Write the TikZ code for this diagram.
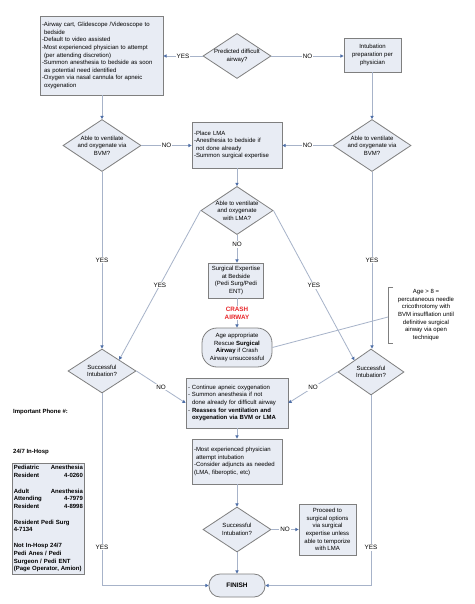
\documentclass[tikz,border=0pt]{standalone}
\usepackage{fontspec}
\setmainfont{Liberation Sans}
\usetikzlibrary{shapes.geometric,arrows.meta}
\definecolor{boxfill}{HTML}{E8ECF4}
\definecolor{boxdraw}{HTML}{7F7F7F}
\definecolor{linec}{HTML}{A7B3C9}
\definecolor{tipc}{HTML}{4E6FA8}
\definecolor{crash}{HTML}{E8262A}
\newcommand{\lrline}[2]{\leavevmode\hbox to 69pt{#1\hfill #2}}
\begin{document}
\begin{tikzpicture}[x=1pt,y=-1pt,
  every node/.style={font=\fontsize{6}{7.6}\selectfont},
  lbox/.style={draw=boxdraw,fill=boxfill,line width=0.8pt,rectangle,align=left,inner xsep=2pt,inner ysep=1pt},
  cbox/.style={draw=boxdraw,fill=boxfill,line width=0.8pt,rectangle,align=center,inner sep=1pt},
  dia/.style={draw=boxdraw,fill=boxfill,line width=0.8pt,diamond,aspect=1.5,inner sep=0pt,align=center,minimum width=68pt,minimum height=45pt},
  rbox/.style={draw=boxdraw,fill=boxfill,line width=0.8pt,rectangle,rounded corners=#1,align=center,inner sep=1pt},
  conn/.style={draw=linec,line width=0.8pt,-{Triangle[length=3.2pt,width=3.2pt,color=tipc]}},
  plain/.style={draw=linec,line width=0.8pt},
  lab/.style={fill=white,inner sep=1pt,font=\fontsize{6.3}{7.4}\selectfont}
]
\useasboundingbox[fill=white] (0,0) rectangle (474,604);

% nodes
\node[lbox,text width=119pt,minimum height=79pt] (top) at (101.5,55.5) {-Airway cart, Glidescope /Videoscope to\\\hspace*{2pt}bedside\\-Default to video assisted\\-Most experienced physician to attempt\\\hspace*{2pt}(per attending discretion)\\-Summon anesthesia to bedside as soon\\\hspace*{2pt}as potential need identified\\-Oxygen via nasal cannula for apneic\\\hspace*{2pt}oxygenation};
\node[dia] (pred) at (237,56) {Predicted difficult\\airway?};
\node[cbox,minimum width=57pt,minimum height=34pt] (prep) at (372.5,55) {Intubation\\preparation per\\physician};
\node[dia] (bvmL) at (102,145.5) {Able to ventilate\\and oxygenate via\\BVM?};
\node[dia] (bvmR) at (372,145.5) {Able to ventilate\\and oxygenate via\\BVM?};
\node[lbox,text width=86pt,minimum height=46pt] (lma) at (237,145) {-Place LMA\\-Anesthesia to bedside if\\\hspace*{2pt}not done already\\-Summon surgical expertise\\[7pt]};
\node[dia,minimum width=69pt] (lmaq) at (237,210.5) {Able to ventilate\\and oxygenate\\with LMA?};
\node[cbox,minimum width=55pt,minimum height=35pt] (surg) at (236,280.5) {Surgical Expertise\\at Bedside\\(Pedi Surg/Pedi\\ENT)};
\node[rbox=15pt,minimum width=70pt,minimum height=39pt] (rescue) at (237,347.5) {Age appropriate\\Rescue \textbf{Surgical}\\\textbf{Airway} if Crash\\Airway unsuccessful};
\node[align=center,inner sep=0pt] (age) at (426,315) {Age {>} 8 =\\percutaneous needle\\cricothrotomy with\\BVM insufflation until\\definitive surgical\\airway via open\\technique};
\coordinate (bt) at (393,287);
\coordinate (bb) at (393,343);
\coordinate (bm) at (388,317);
\draw[draw=boxdraw,line width=0.8pt] (bt) -- (388,287) -- (388,343) -- (bb);
\node[dia,minimum height=44pt] (succL) at (102,371) {Successful\\Intubation?};
\node[dia,minimum width=66pt,minimum height=46pt] (succR) at (371,372) {Successful\\Intubation?};
\node[lbox,text width=98pt,minimum height=50pt] (cont) at (237,403) {- Continue apneic oxygenation\\- Summon anesthesia if not\\\hspace*{4pt}done already for difficult airway\\- \textbf{Reasses for ventilation and}\\\hspace*{4pt}\textbf{oxygenation via BVM or LMA}};
\node[lbox,text width=86pt,minimum height=45pt] (most) at (237,461.5) {-Most experienced physician\\\hspace*{2pt}attempt intubation\\-Consider adjuncts as needed\\(LMA, fiberoptic, etc)};
\node[dia] (succB) at (237,529.5) {Successful\\Intubation?};
\node[cbox,minimum width=57pt,minimum height=51pt] (proceed) at (327.5,529.5) {Proceed to\\surgical options\\via surgical\\expertise unless\\able to temporize\\with LMA};
\node[rbox=11pt,minimum width=56pt,minimum height=23pt,font=\fontsize{6.5}{7.4}\selectfont\bfseries] (finish) at (237,585.5) {FINISH};

% phone info
\node[anchor=west,inner sep=0pt,font=\fontsize{6}{7.4}\selectfont\bfseries] (imp) at (13,411.5) {Important Phone \#:};
\node[anchor=west,inner sep=0pt,font=\fontsize{6}{7.4}\selectfont\bfseries] (inh) at (13,451.5) {24/7 In-Hosp};
\node[draw=boxdraw,fill=boxfill,line width=0.8pt,anchor=north west,inner xsep=1.5pt,inner ysep=2pt,text width=69pt,align=left,font=\fontsize{6}{7.7}\selectfont\bfseries] (phone) at (12,463) {\lrline{Pediatric}{Anesthesia}\\\lrline{Resident}{4-0260}\\[8pt]\lrline{Adult}{Anesthesia}\\\lrline{Attending}{4-7979}\\\lrline{Resident}{4-8998}\\[8pt]Resident Pedi Surg\\4-7134\\[8pt]Not In-Hosp 24/7\\Pedi Anes / Pedi\\Surgeon / Pedi ENT\\(Page Operator, Amion)};

% connectors
\draw[conn] (pred.west) -- node[lab]{YES} (top.east |- pred.west);
\draw[conn] (pred.east) -- node[lab,pos=0.5]{NO} (prep.west |- pred.east);
\draw[conn] (top.south -| bvmL.north) -- (bvmL.north);
\draw[conn] (prep.south -| bvmR.north) -- (bvmR.north);
\draw[conn] (bvmL.east) -- node[lab]{NO} (lma.west |- bvmL.east);
\draw[conn] (bvmR.west) -- node[lab]{NO} (lma.east |- bvmR.west);
\draw[conn] (lma.south -| lmaq.north) -- (lmaq.north);
\draw[conn] (lmaq.west) -- node[lab,pos=0.5]{YES} (succL.north east);
\draw[conn] (lmaq.east) -- node[lab,pos=0.5]{YES} (succR.north west);
\draw[conn] (lmaq.south) -- node[lab,pos=0.35]{NO} (lmaq.south |- surg.north);
\draw[conn] (surg.south -| rescue.north) -- node[lab,text=crash,font=\fontsize{6.3}{7.6}\selectfont\bfseries,align=center,pos=0.5]{CRASH\\AIRWAY} (rescue.north);
\draw[conn] (bvmL.south) -- node[lab]{YES} (succL.north);
\draw[conn] (bvmR.south) -- node[lab]{YES} (bvmR.south |- succR.north);
\draw[plain] (rescue.east) -- (bm);
\draw[conn] (succL.east) -- node[lab,pos=0.5]{NO} (cont.west);
\draw[conn] (succR.west) -- node[lab,pos=0.5]{NO} (cont.east);
\draw[conn] (cont.south) -- (cont.south |- most.north);
\draw[conn] (most.south) -- (most.south |- succB.north);
\draw[conn] (succB.east) -- node[lab]{NO} (proceed.west |- succB.east);
\draw[conn] (succB.south) -- (finish.north);
\draw[conn] (succL.south) -- node[lab,pos=0.8]{YES} (succL.south |- finish.west) -- (finish.west);
\draw[conn] (succR.south) -- node[lab,pos=0.8]{YES} (succR.south |- finish.east) -- (finish.east);
\end{tikzpicture}
\end{document}
